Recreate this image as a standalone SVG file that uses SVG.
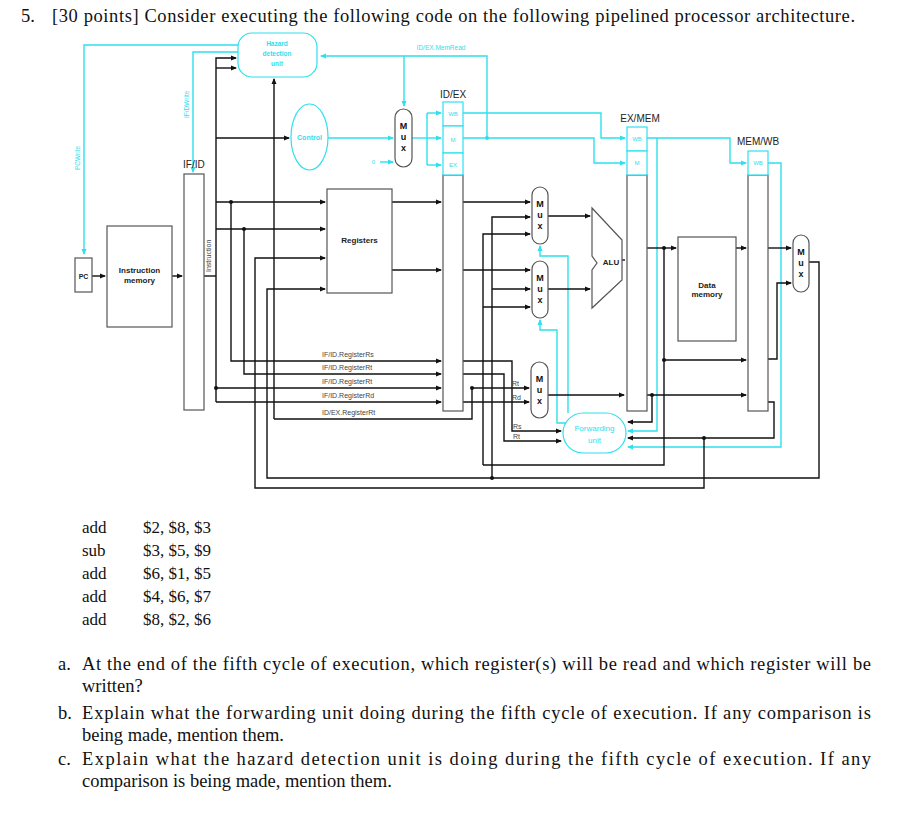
<svg xmlns="http://www.w3.org/2000/svg" width="906" height="815" viewBox="0 0 906 815">
<defs>
<marker id="ab" markerWidth="6" markerHeight="6" refX="5" refY="3" orient="auto" markerUnits="userSpaceOnUse"><path d="M0,0.5 L6,3 L0,5.5 z" fill="#111"/></marker>
<marker id="ac" markerWidth="6" markerHeight="6" refX="5" refY="3" orient="auto" markerUnits="userSpaceOnUse"><path d="M0,0.5 L6,3 L0,5.5 z" fill="#2ee0ee"/></marker>
</defs>
<style>
.t{font-family:"Liberation Serif","Times New Roman",serif;font-size:18.5px;fill:#111}
.code{font-family:"Liberation Serif","Times New Roman",serif;font-size:17px;fill:#111}
.s{font-family:"Liberation Sans",Arial,sans-serif;fill:#222}
.b{fill:none;stroke:#111;stroke-width:1.4}
.c{fill:none;stroke:#2ee0ee;stroke-width:1.4}
.box{fill:#fff;stroke:#555;stroke-width:1.2}
.cbox{fill:#fff;stroke:#2ee0ee;stroke-width:1.2}
.ct{font-family:"Liberation Sans",Arial,sans-serif;fill:#2ee0ee}
.lbl{font-family:"Liberation Sans",Arial,sans-serif;font-size:7px;fill:#444}
.mux{font-family:"Liberation Sans",Arial,sans-serif;font-weight:bold;font-size:9px;fill:#111}
</style>
<rect width="906" height="815" fill="#fff"/>
<text class="t" x="21" y="22">5.</text>
<text class="t" x="52" y="22" textLength="803" lengthAdjust="spacing">[30 points] Consider executing the following code on the following pipelined processor architecture.</text>

<g id="connectors">
<path class="c" d="M238,45 H84 V254" marker-end="url(#ac)"/>
<path class="c" d="M238,52 H193 V172" marker-end="url(#ac)"/>
<path class="c" d="M487,138 V56 H321" marker-end="url(#ac)"/>
<path class="c" d="M404,56 V106" marker-end="url(#ac)"/>
<path class="c" d="M328,138 H393" marker-end="url(#ac)"/>
<path class="c" d="M380,162 H393" marker-end="url(#ac)"/>
<path class="c" d="M412,138 H441" marker-end="url(#ac)"/>
<path class="c" d="M427,113 V165"/>
<path class="c" d="M427,113 H441" marker-end="url(#ac)"/>
<path class="c" d="M427,165 H441" marker-end="url(#ac)"/>
<path class="c" d="M463,113 H601 V138 H625" marker-end="url(#ac)"/>
<path class="c" d="M463,138 H594 V163 H625" marker-end="url(#ac)"/>
<path class="c" d="M647,138 H730 V163 H746" marker-end="url(#ac)"/>
<path class="c" d="M657,138 V431 H628" marker-end="url(#ac)"/>
<path class="c" d="M768,163 H781 V447 H628" marker-end="url(#ac)"/>
<path class="c" d="M568,413 V256 H540 V246" marker-end="url(#ac)"/>
<path class="c" d="M568,423 H557 V330 H540 V320" marker-end="url(#ac)"/>
<path class="b" d="M92,276 H105" marker-end="url(#ab)"/>
<path class="b" d="M172,276 H182" marker-end="url(#ab)"/>
<path class="b" d="M204,276 H216"/>
<path class="b" d="M216,402 V58 H236" marker-end="url(#ab)"/>
<path class="b" d="M216,68 H236" marker-end="url(#ab)"/>
<path class="b" d="M216,138 H289" marker-end="url(#ab)"/>
<path class="b" d="M274,419 V79" marker-end="url(#ab)"/>
<path class="b" d="M216,202 H325" marker-end="url(#ab)"/>
<path class="b" d="M216,229 H325" marker-end="url(#ab)"/>
<path class="b" d="M231,202 V361 H441" marker-end="url(#ab)"/>
<path class="b" d="M244,229 V374 H441" marker-end="url(#ab)"/>
<path class="b" d="M216,388 H441" marker-end="url(#ab)"/>
<path class="b" d="M216,402 H441" marker-end="url(#ab)"/>
<path class="b" d="M274,419 H472 V388"/>
<path class="b" d="M391,202 H441" marker-end="url(#ab)"/>
<path class="b" d="M391,270 H441" marker-end="url(#ab)"/>
<path class="b" d="M704,438 V488 H255 V258 H325" marker-end="url(#ab)"/>
<path class="b" d="M808,262 H819 V478 H267 V289 H325" marker-end="url(#ab)"/>
<path class="b" d="M463,202 H530" marker-end="url(#ab)"/>
<path class="b" d="M463,270 H530" marker-end="url(#ab)"/>
<path class="b" d="M492,478 V217 H530" marker-end="url(#ab)"/>
<path class="b" d="M492,289 H530" marker-end="url(#ab)"/>
<path class="b" d="M483,465 V234 H530" marker-end="url(#ab)"/>
<path class="b" d="M483,307 H530" marker-end="url(#ab)"/>
<path class="b" d="M483,465 H664 V248"/>
<path class="b" d="M548,216 H590" marker-end="url(#ab)"/>
<path class="b" d="M548,289 H590" marker-end="url(#ab)"/>
<path class="b" d="M622,260 H625"/>
<path class="b" d="M463,361 H512 V431 H561" marker-end="url(#ab)"/>
<path class="b" d="M463,374 H504 V441 H561" marker-end="url(#ab)"/>
<path class="b" d="M472,388 H529" marker-end="url(#ab)"/>
<path class="b" d="M463,402 H529" marker-end="url(#ab)"/>
<path class="b" d="M548,395 H624" marker-end="url(#ab)"/>
<path class="b" d="M647,395 H746" marker-end="url(#ab)"/>
<path class="b" d="M652,395 V422 H628" marker-end="url(#ab)"/>
<path class="b" d="M647,248 H676" marker-end="url(#ab)"/>
<path class="b" d="M664,360 H746" marker-end="url(#ab)"/>
<path class="b" d="M736,248 H746" marker-end="url(#ab)"/>
<path class="b" d="M768,248 H791" marker-end="url(#ab)"/>
<path class="b" d="M768,359 H777 V283 H791" marker-end="url(#ab)"/>
<path class="b" d="M768,402 H774 V438 H628" marker-end="url(#ab)"/>
<g fill="#111">
<circle cx="231" cy="202" r="2"/><circle cx="244" cy="229" r="2"/><circle cx="216" cy="388" r="2"/>
<circle cx="472" cy="388" r="2"/><circle cx="492" cy="478" r="2"/>
<circle cx="664" cy="248" r="2"/><circle cx="664" cy="360" r="2"/><circle cx="652" cy="395" r="2"/>
<circle cx="704" cy="438" r="2"/>
</g>
<circle cx="487" cy="138" r="2" fill="#2ee0ee"/>
</g>

<g id="hazard"><rect class="cbox" x="238" y="33" width="79" height="44" rx="14"/>
<text class="ct" font-size="6.5" font-weight="bold" text-anchor="middle"><tspan x="277" y="46">Hazard</tspan><tspan x="277" y="56">detection</tspan><tspan x="277" y="66">unit</tspan></text></g>
<text class="ct" font-size="6.5" x="441" y="50" text-anchor="middle">ID/EX.MemRead</text>
<text class="ct" font-size="6.5" transform="translate(80,170) rotate(-90)">PCWrite</text>
<text class="ct" font-size="6.5" transform="translate(189,118) rotate(-90)">IF/DWrite</text>

<g id="control"><ellipse class="cbox" cx="309.5" cy="137" rx="18.5" ry="33"/><text class="ct" font-size="7" font-weight="bold" x="309.5" y="140" text-anchor="middle">Control</text></g>
<text class="ct" font-size="6" x="375" y="164" text-anchor="end">0</text>

<g id="mux0"><rect class="box" x="395" y="109" width="17" height="58" rx="8.5" stroke="#333"/><text class="mux" text-anchor="middle"><tspan x="403.5" y="129">M</tspan><tspan x="403.5" y="140">u</tspan><tspan x="403.5" y="151">x</tspan></text></g>

<g id="pc"><rect class="box" x="75" y="258" width="17" height="34"/><text class="s" font-size="7" font-weight="bold" x="83.5" y="279" text-anchor="middle">PC</text></g>
<g id="imem"><rect class="box" x="107" y="226" width="65" height="101"/><text class="s" font-size="8" font-weight="bold" text-anchor="middle"><tspan x="139.5" y="273">Instruction</tspan><tspan x="139.5" y="283">memory</tspan></text></g>
<g id="ifid"><rect class="box" x="184" y="174" width="20" height="236"/><text class="s" font-size="10" x="183" y="168">IF/ID</text></g>
<text class="lbl" transform="translate(211,272) rotate(-90)">Instruction</text>
<g id="regs"><rect class="box" x="327" y="189" width="65" height="104"/><text class="s" font-size="8" font-weight="bold" x="359.5" y="243" text-anchor="middle">Registers</text></g>

<g id="idex"><rect class="box" x="443" y="175" width="20" height="236"/>
<rect class="cbox" x="443" y="102" width="20" height="24"/><rect class="cbox" x="443" y="126" width="20" height="27"/><rect class="cbox" x="443" y="153" width="20" height="22"/>
<text class="ct" font-size="6" text-anchor="middle"><tspan x="453" y="116">WB</tspan><tspan x="453" y="142">M</tspan><tspan x="453" y="167">EX</tspan></text>
<text class="s" font-size="10" x="453" y="98" text-anchor="middle">ID/EX</text></g>

<g id="exmem"><rect class="box" x="627" y="175" width="20" height="236"/>
<rect class="cbox" x="627" y="127" width="20" height="24"/><rect class="cbox" x="627" y="151" width="20" height="24"/>
<text class="ct" font-size="6" text-anchor="middle"><tspan x="637" y="141">WB</tspan><tspan x="637" y="165">M</tspan></text>
<text class="s" font-size="10" x="640" y="122" text-anchor="middle">EX/MEM</text></g>

<g id="memwb"><rect class="box" x="748" y="175" width="20" height="236"/>
<rect class="cbox" x="748" y="151" width="20" height="24"/>
<text class="ct" font-size="6" x="758" y="165" text-anchor="middle">WB</text>
<text class="s" font-size="10" x="758" y="145" text-anchor="middle">MEM/WB</text></g>

<g id="mux1"><rect class="box" x="532" y="187" width="16" height="57" rx="8" stroke="#333"/><text class="mux" text-anchor="middle"><tspan x="540" y="207">M</tspan><tspan x="540" y="218">u</tspan><tspan x="540" y="229">x</tspan></text></g>
<g id="mux2"><rect class="box" x="532" y="261" width="16" height="57" rx="8" stroke="#333"/><text class="mux" text-anchor="middle"><tspan x="540" y="281">M</tspan><tspan x="540" y="292">u</tspan><tspan x="540" y="303">x</tspan></text></g>
<g id="mux3"><rect class="box" x="531" y="362" width="17" height="56" rx="8.5" stroke="#333"/><text class="mux" text-anchor="middle"><tspan x="539.5" y="382">M</tspan><tspan x="539.5" y="393">u</tspan><tspan x="539.5" y="404">x</tspan></text></g>
<g id="mux4"><rect class="box" x="793" y="235" width="16" height="57" rx="8" stroke="#333"/><text class="mux" text-anchor="middle"><tspan x="801" y="255">M</tspan><tspan x="801" y="266">u</tspan><tspan x="801" y="277">x</tspan></text></g>

<g id="alu"><path class="box" d="M592,208 L622,240 L622,280 L592,308 L592,270 L597,263 L592,256 Z"/><text class="s" font-size="8" font-weight="bold" x="611" y="265" text-anchor="middle">ALU</text></g>
<g id="dmem"><rect class="box" x="678" y="237" width="58" height="104"/><text class="s" font-size="8" font-weight="bold" text-anchor="middle"><tspan x="707" y="288">Data</tspan><tspan x="707" y="297">memory</tspan></text></g>
<g id="fwd"><rect class="cbox" x="563" y="413" width="63" height="40" rx="20"/><text class="ct" font-size="8" text-anchor="middle"><tspan x="594.5" y="431">Forwarding</tspan><tspan x="594.5" y="443">unit</tspan></text></g>

<g class="lbl">
<text x="322" y="357">IF/ID.RegisterRs</text>
<text x="322" y="370">IF/ID.RegisterRt</text>
<text x="322" y="384">IF/ID.RegisterRt</text>
<text x="322" y="398">IF/ID.RegisterRd</text>
<text x="322" y="415">ID/EX.RegisterRt</text>
<text x="512" y="386">Rt</text><text x="512" y="400">Rd</text>
<text x="513" y="429">Rs</text><text x="513" y="439">Rt</text>
</g>

<text class="code"><tspan x="82" y="533">add</tspan><tspan x="82" y="556">sub</tspan><tspan x="82" y="579">add</tspan><tspan x="82" y="602">add</tspan><tspan x="82" y="625">add</tspan></text>
<text class="code"><tspan x="143" y="533">$2, $8, $3</tspan><tspan x="143" y="556">$3, $5, $9</tspan><tspan x="143" y="579">$6, $1, $5</tspan><tspan x="143" y="602">$4, $6, $7</tspan><tspan x="143" y="625">$8, $2, $6</tspan></text>

<text class="t" x="58" y="670">a.</text>
<text class="t" x="82" y="670" textLength="789" lengthAdjust="spacing">At the end of the fifth cycle of execution, which register(s) will be read and which register will be</text>
<text class="t" x="82" y="692">written?</text>
<text class="t" x="58" y="719">b.</text>
<text class="t" x="82" y="719" textLength="789" lengthAdjust="spacing">Explain what the forwarding unit doing during the fifth cycle of execution. If any comparison is</text>
<text class="t" x="82" y="741">being made, mention them.</text>
<text class="t" x="58" y="765">c.</text>
<text class="t" x="82" y="765" textLength="789" lengthAdjust="spacing">Explain what the hazard detection unit is doing during the fifth cycle of execution. If any</text>
<text class="t" x="82" y="787">comparison is being made, mention them.</text>
</svg>
